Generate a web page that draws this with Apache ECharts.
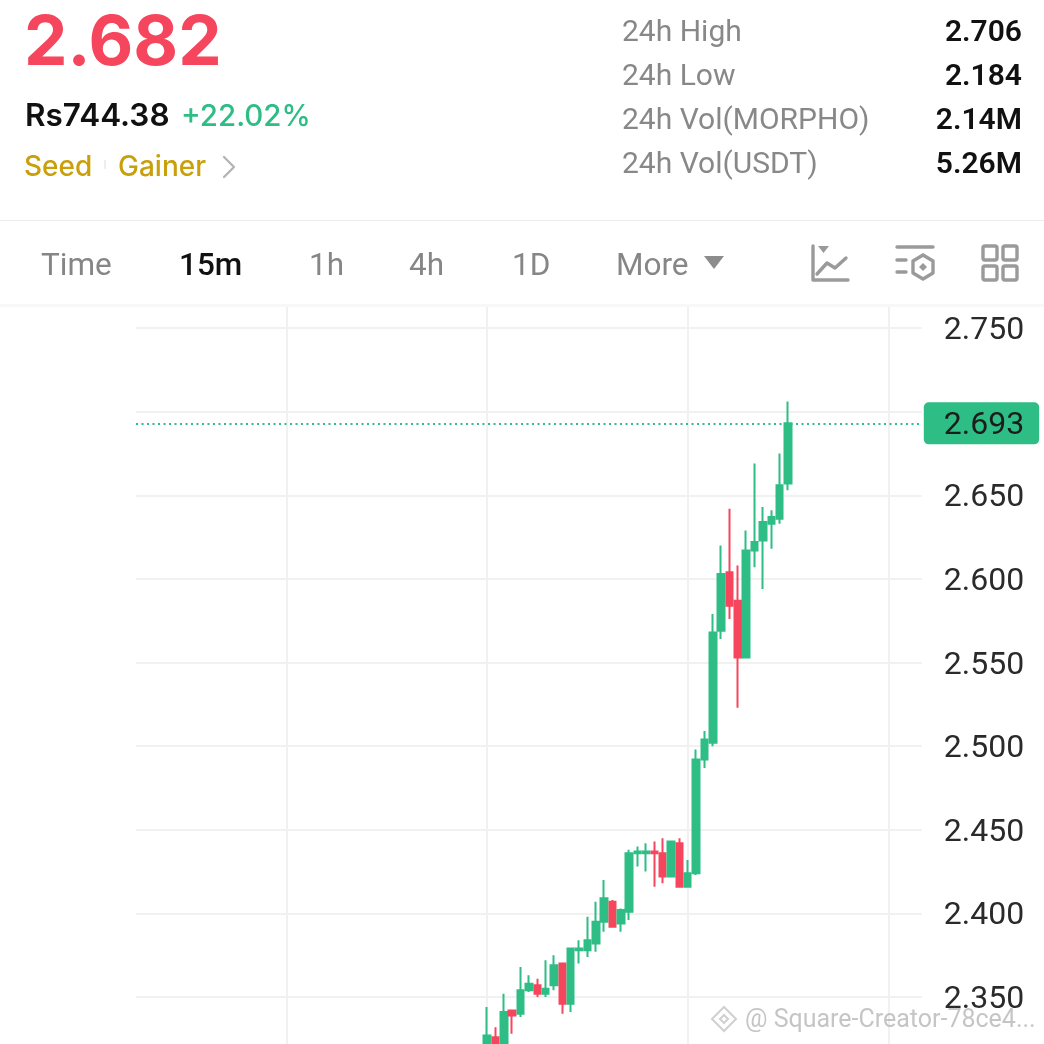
<!DOCTYPE html>
<html><head><meta charset="utf-8">
<style>html,body{margin:0;padding:0;background:#fff}#c{width:1044px;height:1044px}</style>
<script src="https://cdn.jsdelivr.net/npm/echarts@6/dist/echarts.min.js"></script>
</head><body><div id="c"></div>
<script>
const opens  = [2.318,2.326,2.320,2.342,2.340,2.354,2.357,2.352,2.357,2.370,2.346,2.378,2.378,2.382,2.395,2.407,2.394,2.401,2.436,2.436,2.437,2.436,2.422,2.442,2.416,2.424,2.492,2.502,2.569,2.604,2.587,2.553,2.617,2.623,2.633,2.636,2.657];
const closes = [2.327,2.312,2.341,2.339,2.354,2.358,2.352,2.355,2.369,2.346,2.379,2.379,2.384,2.395,2.409,2.392,2.402,2.436,2.437,2.437,2.436,2.422,2.443,2.416,2.424,2.492,2.504,2.568,2.603,2.584,2.553,2.617,2.622,2.634,2.637,2.656,2.693];
const lows   = [2.310,2.305,2.315,2.328,2.338,2.353,2.350,2.350,2.354,2.340,2.341,2.370,2.374,2.377,2.389,2.392,2.389,2.396,2.428,2.425,2.416,2.418,2.422,2.416,2.416,2.423,2.487,2.500,2.564,2.576,2.523,2.553,2.607,2.594,2.618,2.633,2.653];
const highs  = [2.344,2.332,2.352,2.342,2.368,2.363,2.361,2.372,2.375,2.370,2.379,2.384,2.398,2.407,2.420,2.408,2.403,2.438,2.440,2.442,2.443,2.445,2.443,2.445,2.432,2.498,2.509,2.579,2.620,2.642,2.608,2.629,2.669,2.643,2.641,2.675,2.706];
const leadingSlots = 42, trailingSlots = 16;
const lastPrice = 2.693;
const yTickLabels = ['2.350','2.400','2.450','2.500','2.550','2.600','2.650','2.750'];
const statNames = ['24h High','24h Low','24h Vol(MORPHO)','24h Vol(USDT)'];
const statValues = ['2.706','2.184','2.14M','5.26M'];
const tabs = ['Time','15m','1h','4h','1D','More'];

const GREEN='#2EBD85', RED='#F6465D', GOLD='#C99F0A', FONT='Roboto, sans-serif', HEAD='Inter, sans-serif';
const candles = opens.map((o,i)=>[o,closes[i],lows[i],highs[i]]);
const data = [...Array(leadingSlots).fill('-'), ...candles, ...Array(trailingSlots).fill('-')];
const cats = data.map((_,i)=>String(i));

const txt=(text,x,y,size,fill,weight,align,font)=>({type:'text',z:100,style:{text,x,y,fontSize:size,fill,fontWeight:weight||400,textAlign:align||'left',textVerticalAlign:'middle',fontFamily:font||FONT}});
const tabX=[41,179,309,409,512,616];
const ic={stroke:'#9a9a9a',lineWidth:3.4,fill:'none',lineCap:'round',lineJoin:'round'};
const pl=(points,style)=>({type:'polyline',z:100,shape:{points},style:{...ic,...style}});
const rr=(x,y,w,h,r)=>({type:'rect',z:100,shape:{x,y,width:w,height:h,r},style:{...ic}});
const graphics=[
 {type:'rect',z:99,shape:{x:0,y:0,width:1044,height:304},style:{fill:'#fff'}},
 {type:'rect',z:99,shape:{x:0,y:220,width:1044,height:1},style:{fill:'#ececec'}},
 {type:'rect',z:99,shape:{x:0,y:304,width:1044,height:3},style:{fill:'#f8f8f8'}},
 txt('2.682',24,44,69,RED,700,'left',HEAD),
 txt('Rs744.38',25,117,31.5,'#111',600,'left',HEAD),
 txt('+22.02%',181,117,29.5,GREEN,500,'left',HEAD),
 txt('Seed',24,168,28,GOLD,500,'left',HEAD),
 txt('Gainer',118,168,28,GOLD,500,'left',HEAD),
 {type:'rect',z:100,shape:{x:104,y:160,width:2,height:9},style:{fill:'#eee'}},
 pl([[224,157],[234,167],[224,177]],{stroke:'#b5b5b5',lineWidth:2.4}),
 ...statNames.map((s,i)=>txt(s,622,33+i*44,30,'#888')),
 ...statValues.map((s,i)=>txt(s,1022,33+i*44,30,'#111',600,'right')),
 ...tabs.map((s,i)=>txt(s,tabX[i],267,31.5,i===1?'#111':'#868686',i===1?500:400)),
 {type:'polygon',z:100,shape:{points:[[704,256],[724,256],[714,269]]},style:{fill:'#8c8c8c'}},
 pl([[813,246],[813,280],[848,280]]),
 {type:'polygon',z:100,shape:{points:[[818,246],[829,246],[823.5,253]]},style:{fill:'#9a9a9a'}},
 pl([[817,274],[827,263],[835,268],[846,258]]),
 pl([[897,247],[933,247]]),
 pl([[897,260],[906,260]]), pl([[897,272],[906,272]]),
 pl([[923,255],[933,261],[933,273],[923,279],[913,273],[913,261],[923,255]]),
 {type:'polygon',z:100,shape:{points:[[923,263],[927,267],[923,271],[919,267]]},style:{fill:'#9a9a9a'}},
 rr(983,246,14,14,2), rr(1003,246,14,14,2), rr(983,266,14,14,2), rr(1003,266,14,14,2),
 txt('@ Square-Creator-78ce4...',745,1021,25,'rgba(150,150,150,0.55)',400),
 {type:'polygon',z:101,shape:{points:[[724,1007],[736,1019],[724,1031],[712,1019]]},style:{fill:'none',stroke:'rgba(170,170,170,0.55)',lineWidth:2}},
 {type:'polygon',z:101,shape:{points:[[724,1015],[728,1019],[724,1023],[720,1019]]},style:{fill:'none',stroke:'rgba(170,170,170,0.55)',lineWidth:2}}
];

const chart=echarts.init(document.getElementById('c'),null,{renderer:'canvas'});
chart.setOption({
 animation:false,
 backgroundColor:'#fff',
 grid:{left:136,top:244.4,width:785.8,height:836.25,containLabel:false,outerBoundsMode:'none'},
 xAxis:{type:'category',data:cats,boundaryGap:false,
   axisLine:{show:false},axisTick:{show:false},axisLabel:{show:false},
   splitLine:{show:true,interval:i=>(i-18)%24===0,lineStyle:{color:'#f1f1f1',width:2}}},
 yAxis:{type:'value',position:'right',min:2.30,max:2.80,interval:0.05,
   axisLine:{show:false},axisTick:{show:false},
   splitLine:{show:true,lineStyle:{color:'#f1f1f1',width:2}},
   axisLabel:{margin:22,color:'#2a2a2a',
     rich:{a:{fontSize:32,color:'#2a2a2a',fontFamily:FONT,padding:[6,0,0,0]}},
     formatter:v=>{const s=v.toFixed(3);return yTickLabels.includes(s)?'{a|'+s+'}':'';}}},
 series:[
  {type:'candlestick',data,barWidth:7,clip:true,
   itemStyle:{color:GREEN,color0:RED,borderColor:GREEN,borderColor0:RED,borderWidth:2}},
  {type:'line',data:[],symbol:'none',silent:true,
   markLine:{silent:true,symbol:'none',animation:false,precision:3,
     lineStyle:{color:GREEN,type:[2,3.5],width:2,opacity:1},
     label:{show:true,position:'end',distance:2,formatter:'{a|'+lastPrice.toFixed(3)+'}',
       backgroundColor:GREEN,borderRadius:5,padding:[4,15,4,20],
       rich:{a:{fontSize:32,fontFamily:FONT,color:'#1c1c1c',lineHeight:34,padding:[6,0,0,0]}}},
     data:[{yAxis:lastPrice}]}}],
 graphic:{elements:graphics}
});
</script></body></html>
